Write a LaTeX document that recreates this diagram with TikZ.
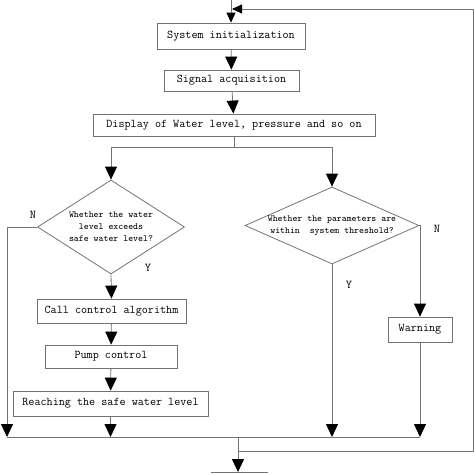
\documentclass[tikz,border=0pt]{standalone}
\usetikzlibrary{arrows.meta,shapes.geometric}
\definecolor{linegray}{gray}{0.45}
\begin{document}
\begin{tikzpicture}[x=1pt,y=-1pt,
    box/.style={draw=linegray,line width=0.8pt,inner sep=0pt,%
      font=\ttfamily\fontsize{11.8}{14}\selectfont},
    decision/.style={draw=linegray,line width=0.8pt,shape=diamond,inner sep=-3pt,%
      align=center,font=\ttfamily\fontsize{9.4}{12}\selectfont},
    flow/.style={draw=linegray,line width=0.8pt},
    arr/.style={flow,-{Triangle[width=12pt,length=13pt,color=black,fill=black]}},
    smallarr/.style={flow,-{Triangle[width=9pt,length=10pt,color=black,fill=black]}},
    yn/.style={font=\ttfamily\fontsize{12}{14}\selectfont}]
      \useasboundingbox (0,0) rectangle (474,474) ;
      % boxes
      \node[box,minimum width=148pt,minimum height=26pt] (init) at (231,36) {System initialization} ;
      \node[box,minimum width=135pt,minimum height=21pt] (sig) at (231.5,80.5) {Signal acquisition} ;
      \node[box,minimum width=282pt,minimum height=22pt] (disp) at (234,125) {Display of Water level, pressure and so on} ;
      \node[decision,aspect=1.56,minimum width=147pt,minimum height=94pt] (dl) at (111,227) %
        {Whether the water\\level exceeds\\safe water level?} ;
      \node[decision,aspect=2.26,minimum width=174pt,minimum height=77pt] (dr) at (332,225.5) %
        {Whether the parameters are\\within\ \ system threshold?} ;
      \node[box,minimum width=149pt,minimum height=24pt] (call) at (111.5,311) {Call control algorithm} ;
      \node[box,minimum width=132pt,minimum height=23pt] (pump) at (111,356.5) {Pump control} ;
      \node[box,minimum width=195pt,minimum height=25pt] (reach) at (110.5,403.5) {Reaching the safe water level} ;
      \node[box,minimum width=64pt,minimum height=25pt] (warn) at (420,329.5) {Warning} ;
      % labels
      \node[yn] (nl) at (33,215) {N} ;
      \node[yn] (yl) at (148,268) {Y} ;
      \node[yn] (nr) at (437,229) {N} ;
      \node[yn] (yr) at (349,285) {Y} ;
      % coordinates
      \coordinate (top) at (231,0) ;
      \coordinate (fbtip) at (232,9) ;
      \coordinate (split) at (234,147) ;
      \coordinate (botL) at (7,437) ;
      \coordinate (botR) at (420,437) ;
      \coordinate (merge) at (238,437) ;
      \coordinate (fb) at (238,451) ;
      \coordinate (fbcorner) at (473,451) ;
      \coordinate (endtop) at (238,472) ;
      % connectors
      \draw[smallarr] (top) -- (init.north) ;
      \draw[arr] (init) -- (sig) ;
      \draw[arr] (sig) -- (disp) ;
      \draw[flow] (disp.south) -- (split) ;
      \draw[arr] (split) -| (dl.north) ;
      \draw[arr] (split) -| (dr.north) ;
      \draw[arr] (dl.west) -| (botL) ;
      \draw[arr] (dl.south) -- (call.north) ;
      \draw[arr] (call) -- (pump) ;
      \draw[arr] (pump) -- (reach) ;
      \draw[arr] (reach.south) -- (reach.south |- botL) ;
      \draw[arr] (dr.south) -- (dr.south |- botL) ;
      \draw[arr] (dr.east) -| (warn.north) ;
      \draw[arr] (warn.south) -- (warn.south |- botL) ;
      \draw[flow] (botL) -- (botR) ;
      \draw[arr] (merge) -- (endtop) ;
      \draw[smallarr] (fb) -- (fbcorner) |- (fbtip) ;
      \draw[flow] (211,472) -- (268,472) ;
    \end{tikzpicture}
\end{document}
